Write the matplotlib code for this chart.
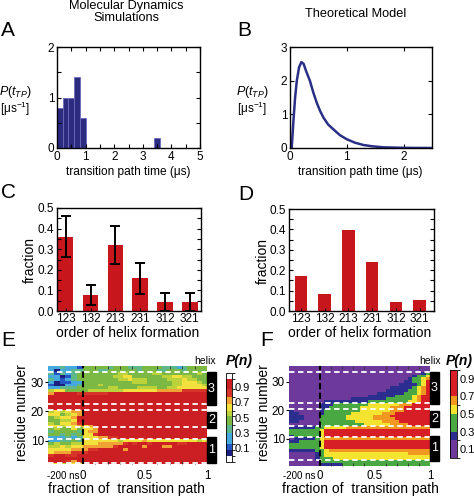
import numpy as np
import matplotlib
matplotlib.use('Agg')
import matplotlib.pyplot as plt
from matplotlib.colors import ListedColormap, BoundaryNorm
from matplotlib.cm import ScalarMappable
from matplotlib.patches import Rectangle
from matplotlib.ticker import MultipleLocator, FixedLocator

plt.rcParams['font.family'] = ['Liberation Sans', 'DejaVu Sans']
plt.rcParams['mathtext.fontset'] = 'custom'
plt.rcParams['mathtext.rm'] = 'Liberation Sans'
plt.rcParams['mathtext.it'] = 'Liberation Sans:italic'
plt.rcParams['mathtext.bf'] = 'Liberation Sans:bold'

# ---------------- data ----------------
# A: MD transition path time histogram (bin left edges, width 0.2 us)
md_bin_left = [0.0, 0.2, 0.4, 0.6, 0.8, 3.4]
md_density = [0.8, 1.0, 1.0, 1.4, 0.6, 0.2]

# B: theoretical model distribution
model_t = [0.0, 0.03, 0.06, 0.09, 0.12, 0.16, 0.20, 0.24, 0.28, 0.35, 0.41, 0.47,
           0.53, 0.59, 0.67, 0.76, 0.88, 1.00, 1.14, 1.29, 1.45, 1.65, 2.0, 2.5]
model_p = [0.0, 0.0, 0.8, 1.5, 2.0, 2.4, 2.55, 2.5, 2.3, 2.0, 1.65, 1.35,
           1.1, 0.9, 0.7, 0.56, 0.38, 0.26, 0.16, 0.09, 0.05, 0.02, 0.005, 0.0]

# C, D: order of helix formation
orders = ['123', '132', '213', '231', '312', '321']
md_fraction = [0.36, 0.077, 0.318, 0.158, 0.043, 0.045]
md_err_low = [0.26, 0.03, 0.228, 0.084, 0.0, 0.0]
md_err_high = [0.462, 0.125, 0.414, 0.231, 0.086, 0.086]
model_fraction = [0.174, 0.082, 0.395, 0.239, 0.043, 0.052]

# E, F: helicity P(n) per residue (rows top residue 35 downward),
# digits = tenths of P(n); "pre-path | fraction of transition path"
md_pn_rows = [
    "223221|4444434443334444333234444",  # 35
    "202233|4443344444434443344434444",  # 34
    "313234|4444444554444455444444454",  # 33
    "220134|4444445566444444556655444",  # 32
    "321234|4444444556555444455565544",  # 31
    "201122|4444444444555444445566654",  # 30
    "100223|4445444444444444445566665",  # 29
    "223334|4444455444455554455666666",  # 28
    "566444|4555555566666667777788888",  # 27
    "799998|8888899999999999999999999",  # 26
    "999999|9999999999999999999999999",  # 25
    "999999|9999999999999999999999999",  # 24
    "999999|9999999999999999999999999",  # 23
    "999999|9999999999999999999999999",  # 22
    "999999|9999999999999999999999999",  # 21
    "565677|9999999999999999999999999",  # 20
    "664567|9999999999999999999999999",  # 19
    "456679|9999999999999999999999999",  # 18
    "445569|9999999999999999999999999",  # 17
    "546678|9999999999999999999999999",  # 16
    "665667|6799999999999999999999999",  # 15
    "454464|6679999999999999999999999",  # 14
    "344443|6779999999999999999999999",  # 13
    "443434|6689999999999999999999999",  # 12
    "222323|6667788999999999999999999",  # 11
    "223343|6666666566667666666666656",  # 10
    "454455|6667777789899899999889999",  # 9
    "556566|7777778999997999779999999",  # 8
    "666677|7889999979999999999999999",  # 7
    "677788|8999999999999999999999999",  # 6
    "899889|9999999999999999999999999",  # 5
    "999999|9999999999999999999999999",  # 4
    "999879|9999999999999999999999999",  # 3
    "665566|9999999999999999999999999",  # 2
]
model_pn_rows = [
    "000000|0000000000000000000000000",  # 35
    "000000|0000000000000000000000000",  # 34
    "000000|0000000000000000000000024",  # 33
    "000000|0000000000000000000002345",  # 32
    "000000|0000000000000000000023456",  # 31
    "000000|0000000000000000000223458",  # 30
    "000000|0000000000000000002222459",  # 29
    "000000|0000000000000000222224569",  # 28
    "000000|0000000000000002222244569",  # 27
    "000000|0000000000000222222344569",  # 26
    "000000|0000000000022222234445689",  # 25
    "000000|0000000222222223444445689",  # 24
    "000000|0222222222234444444455689",  # 23
    "000000|2223344444455555556668999",  # 22
    "000000|2233444445555555666899999",  # 21
    "200000|2334444445555555666889999",  # 20
    "221000|2344444555555566688999999",  # 19
    "222100|3444445555556666889999999",  # 18
    "222110|3444445555556666689999999",  # 17
    "221000|3444444455555566668899999",  # 16
    "100000|4444444444555555666688999",  # 15
    "222223|4555556666666666666666666",  # 14
    "344433|5999999999999999999999999",  # 13
    "344443|5999999999999999999999999",  # 12
    "233333|5899999999999999999999999",  # 11
    "122223|5666666666666666666666666",  # 10
    "223333|5899999999999999999999999",  # 9
    "344443|5999999999999999999999999",  # 8
    "334443|5999999999999999999999999",  # 7
    "222223|4566666666666666666666666",  # 6
    "111112|4555555555555555555566666",  # 5
    "111112|4555555555555555555555555",  # 4
    "011112|4445555555555555555555555",  # 3
    "111111|3444444444444444444444444",  # 2
    "111111|2222233333333333333333333",  # 1
]
helix_names = ['1', '2', '3']
helix_bar_lo = [2.4, 14.2, 22.1]
helix_bar_hi = [11.1, 19.9, 33.4]
helix_boundaries = [2.5, 10.5, 14.5, 20.5, 22.5, 33.5]
cbar_ticks = [0.1, 0.3, 0.5, 0.7, 0.9]

md_colors = ['#1c1f7e', '#2456c4', '#46a9de', '#5fb88c', '#7cb944',
             '#bcd23a', '#f2e13c', '#f0a234', '#d8352a', '#cc1f24']
md_bounds = [-0.08, 0.0, 0.07, 0.16, 0.30, 0.40, 0.52, 0.58, 0.68, 0.77,
             0.87, 1.0, 1.08]
model_colors = ['#6d3a9c', '#2b2e8e', '#4aa843', '#f4e42f', '#f0981f', '#d71e26']
model_bounds = [0.0, 0.2, 0.3, 0.5, 0.6, 0.7, 1.0]

# ---------------- figure ----------------
W, H = 474, 496
fig = plt.figure(figsize=(W / 100, H / 100), dpi=100)
fig.patch.set_facecolor('white')


def px_axes(x0, y0, x1, y1):
    return fig.add_axes([x0 / W, 1 - y1 / H, (x1 - x0) / W, (y1 - y0) / H])


def ftext(x, y, s, **kw):
    kw.setdefault('ha', 'center')
    kw.setdefault('va', 'center')
    return fig.text(x / W, 1 - y / H, s, **kw)


TICK = 8.5
navy = '#2d2b80'
red = '#c8161d'

# Panel A
axA = px_axes(57, 47, 200, 148)
axA.bar(md_bin_left, md_density, width=0.2, align='edge', color=navy,
        edgecolor='#6a6abb', linewidth=0.6)
axA.set_xlim(0, 5)
axA.set_ylim(0, 2)
axA.xaxis.set_major_locator(MultipleLocator(1))
axA.xaxis.set_minor_locator(MultipleLocator(0.5))
axA.yaxis.set_major_locator(MultipleLocator(1))
axA.yaxis.set_minor_locator(MultipleLocator(0.5))

# Panel B
axB = px_axes(290, 47, 432, 148)
axB.plot(model_t, model_p, color='#2b2f86', lw=1.8)
axB.set_xlim(0, 2.5)
axB.set_ylim(0, 3)
axB.xaxis.set_major_locator(MultipleLocator(1))
axB.yaxis.set_major_locator(MultipleLocator(1))

for ax in (axA, axB):
    ax.tick_params(which='both', direction='in', top=True, right=True,
                   length=3, width=0.8, labelsize=TICK, pad=2)
    for s in ax.spines.values():
        s.set_linewidth(1.0)

# Panel C
axC = px_axes(57, 208, 201, 311)
xpos = np.arange(len(orders))
axC.bar(xpos, md_fraction, width=0.62, color=red)
yerr = [np.array(md_fraction) - np.array(md_err_low),
        np.array(md_err_high) - np.array(md_fraction)]
axC.errorbar(xpos, md_fraction, yerr=yerr, fmt='none', ecolor='black',
             elinewidth=1.4, capsize=3.5, capthick=1.4)
axC.set_xlim(-0.35, 5.45)

# Panel D
axD = px_axes(289, 209, 434, 311)
axD.bar(xpos, model_fraction, width=0.53, color=red)
axD.set_xlim(-0.5, 5.6)

for ax in (axC, axD):
    ax.set_ylim(0, 0.5)
    ax.set_xticks(xpos)
    ax.set_xticklabels(orders)
    ax.yaxis.set_major_locator(MultipleLocator(0.1))
    ax.yaxis.set_minor_locator(MultipleLocator(0.05))
    ax.yaxis.set_major_formatter(matplotlib.ticker.FormatStrFormatter('%.1f'))
    ax.tick_params(which='both', direction='in', right=True, top=False,
                   length=3, width=0.8, labelsize=TICK, pad=2)
    ax.tick_params(axis='x', length=2, pad=1.5)
    for s in ax.spines.values():
        s.set_linewidth(1.0)


# Panels E, F
def decode(rows):
    pre = [r.split('|')[0] for r in rows]
    main = [r.split('|')[1] for r in rows]
    assert all(len(p) == 6 for p in pre), [len(p) for p in pre]
    assert all(len(m) == 25 for m in main), [len(m) for m in main]
    Z = np.array([[int(c) for c in p + m] for p, m in zip(pre, main)], float)
    return Z[::-1] / 10.0 + 0.05


x_edges = np.concatenate([np.linspace(-0.28, 0, 7), np.linspace(0, 1, 26)[1:]])


def heat(ax, rows, cmap, norm, ylo, barw, xpad):
    Z = decode(rows)
    n = Z.shape[0]
    y_edges = np.arange(35.5 - n, 36.0, 1.0)
    ax.pcolormesh(x_edges, y_edges, Z, cmap=cmap, norm=norm, shading='flat',
                  antialiased=False, edgecolors='none')
    for yb in helix_boundaries:
        ax.axhline(yb, color='white', lw=1.3, ls=(0, (3, 2)))
    ax.axvline(0, color='black', lw=1.5, ls=(0, (3, 1.6)))
    ax.set_xlim(-0.28, 1)
    ax.set_ylim(ylo, 35.5)
    for lo, hi, nm in zip(helix_bar_lo, helix_bar_hi, helix_names):
        ax.add_patch(Rectangle((1.0, lo), barw, hi - lo, color='black',
                               clip_on=False, zorder=5))
        ax.text(1.0 + barw / 2, (lo + hi) / 2, nm, color='white', fontsize=9,
                ha='center', va='center', zorder=6, clip_on=False)
    for s in ax.spines.values():
        s.set_visible(False)
    ax.set_xticks([0, 0.5, 1])
    ax.set_xticklabels(['0', '0.5', '1'])
    ax.xaxis.set_minor_locator(FixedLocator([0.1 * i for i in range(11)]))
    ax.tick_params(axis='x', which='major', length=0, labelsize=8.3, pad=xpad)
    ax.tick_params(axis='x', which='minor', direction='in', length=2,
                   width=0.6, top=True, bottom=True, color='#333333')
    ax.set_yticks([10, 20, 30])
    ax.tick_params(axis='y', direction='out', length=2, width=0.8,
                   labelsize=8.5, pad=1)


cmapE = ListedColormap(['white'] + md_colors + ['white'])
normE = BoundaryNorm(md_bounds, cmapE.N)
axE = px_axes(48, 366, 207, 464)
heat(axE, md_pn_rows, cmapE, normE, 2.0, 0.07, 4.2)

cmapF = ListedColormap(model_colors)
normF = BoundaryNorm(model_bounds, cmapF.N)
axF = px_axes(289, 366, 430, 466)
heat(axF, model_pn_rows, cmapF, normF, 0.5, 0.08, 2.8)

caxE = px_axes(226, 373, 232, 462)
cbE = fig.colorbar(ScalarMappable(norm=normE, cmap=cmapE), cax=caxE,
                   ticks=cbar_ticks, spacing='proportional')
caxF = px_axes(450, 370, 457, 458)
cbF = fig.colorbar(ScalarMappable(norm=normF, cmap=cmapF), cax=caxF,
                   ticks=cbar_ticks, spacing='proportional')
for cb in (cbE, cbF):
    cb.ax.tick_params(length=0, labelsize=8, pad=2)
    cb.ax.set_yticklabels(['%.1f' % t for t in cbar_ticks])
    cb.outline.set_linewidth(0.6)

# ---------------- texts ----------------
ftext(126, 12, 'Molecular Dynamics\nSimulations', fontsize=9.2, linespacing=1.05)
ftext(356, 14, 'Theoretical Model', fontsize=9.2)

for x, y, s in [(1, 30, 'A'), (237, 30, 'B'), (1, 193, 'C'), (238, 194, 'D'),
                (1, 340, 'E'), (260, 340, 'F')]:
    ftext(x, y, s, fontsize=15, ha='left')

for xc in (15, 252):
    ftext(xc, 92, r'$\mathit{P}(\mathit{t}_{\mathit{TP}})$', fontsize=9)
    ftext(xc, 109, r'[$\mathrm{\mu}$s$^{-1}$]', fontsize=8.5)

ftext(128, 172, 'transition path time (\u03bcs)', fontsize=8.6)
ftext(360, 172, 'transition path time (\u03bcs)', fontsize=8.6)

ftext(30, 260, 'fraction', fontsize=10, rotation=90)
ftext(262.5, 261, 'fraction', fontsize=10, rotation=90)
ftext(128, 333, 'order of helix formation', fontsize=10)
ftext(360, 333, 'order of helix formation', fontsize=10)

ftext(22.5, 413, 'residue number', fontsize=10, rotation=90)
ftext(264, 413, 'residue number', fontsize=10, rotation=90)

# pre-path time-window labels
ftext(47, 476, '-200 ns', fontsize=7, ha='left')
ftext(283, 476, '-200 ns', fontsize=7, ha='left')

ftext(126, 489, 'fraction of  transition path', fontsize=10)
ftext(360, 489, 'fraction of  transition path', fontsize=10)

ftext(205, 361, 'helix', fontsize=7.5)
ftext(239, 361, 'P(n)', fontsize=10, fontweight='bold', fontstyle='italic')
ftext(430, 361, 'helix', fontsize=7.5)
ftext(459, 361, 'P(n)', fontsize=10, fontweight='bold', fontstyle='italic')

fig.savefig('out.png', dpi=100, facecolor='white')
